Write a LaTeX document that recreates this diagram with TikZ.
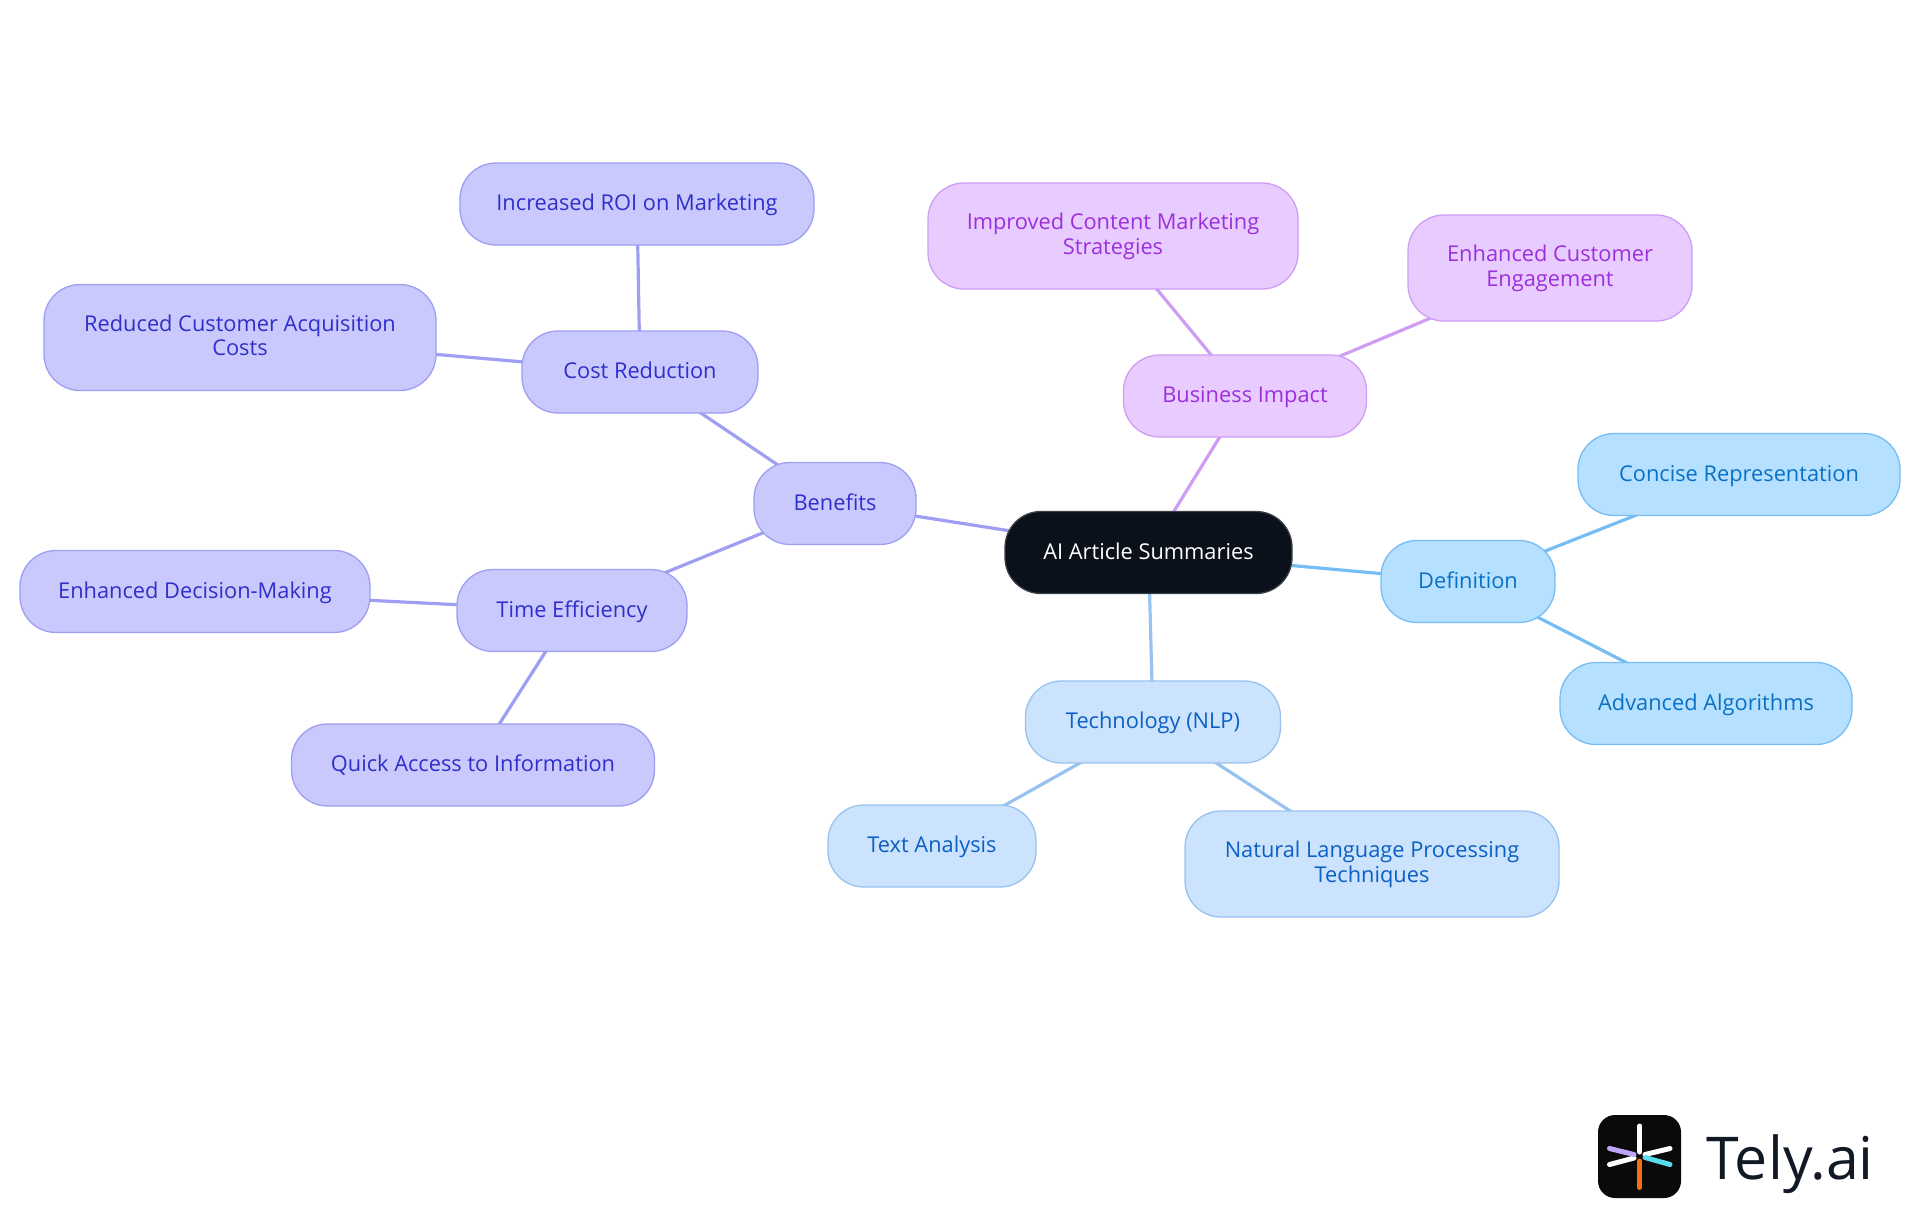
\documentclass[tikz,border=0pt]{standalone}
\usepackage{fontspec}
\setmainfont{Open Sans}
\usetikzlibrary{backgrounds}
\definecolor{mroot}{HTML}{0B111A}
\definecolor{mrootline}{HTML}{3A4048}
\definecolor{mviolet}{HTML}{C9C9FD}
\definecolor{mvioletline}{HTML}{9E9EF2}
\definecolor{mvioletText}{HTML}{2F2FC9}
\definecolor{mpurple}{HTML}{E8CBFF}
\definecolor{mpurpleline}{HTML}{CF9DF3}
\definecolor{mpurpleText}{HTML}{9B30DC}
\definecolor{msky}{HTML}{B5E0FF}
\definecolor{mskyline}{HTML}{75BDF2}
\definecolor{mskyText}{HTML}{0A70C4}
\definecolor{mblue}{HTML}{CCE3FD}
\definecolor{mblueline}{HTML}{98C3EF}
\definecolor{mblueText}{HTML}{0C5FC4}
\definecolor{mlogo}{HTML}{111A24}
\tikzset{topic/.style = {draw, rectangle, rounded corners = 18pt, line width = 0.65pt, align = center, inner sep = 0,
    minimum height = 41pt, text height = 8.5pt, text depth = 1.9pt, font = \fontsize{10.9}{12.4}\selectfont}}
\tikzset{tall/.style = {minimum height = 53pt, text height = 20.9pt, text depth = 2.5pt}}
\tikzset{violet/.style = {topic, fill = mviolet, draw = mvioletline, text = mvioletText}}
\tikzset{purple/.style = {topic, fill = mpurple, draw = mpurpleline, text = mpurpleText}}
\tikzset{sky/.style = {topic, fill = msky, draw = mskyline, text = mskyText}}
\tikzset{blue/.style = {topic, fill = mblue, draw = mblueline, text = mblueText}}
\tikzset{spoke/.style = {line width = 2.5pt, line cap = round}}
\begin{document}
\begin{tikzpicture}[x = 0.5pt, y = -0.5pt]
    \useasboundingbox (0, 0) rectangle (1920, 1215);

    \node [topic, fill = mroot, draw = mrootline, text = white, minimum width = 143.5pt] (root) at (1148.5, 552.5) {AI Article Summaries};

    \node [violet, minimum width = 81pt] (benefits) at (835, 503.5) {Benefits};
    \node [violet, minimum width = 118pt] (cost) at (640, 372) {Cost Reduction};
    \node [violet, minimum width = 177pt] (roi) at (637, 204) {Increased ROI on Marketing};
    \node [violet, tall, minimum width = 196pt] (acquisition) at (240, 337.5) {Reduced Customer Acquisition\\Costs};
    \node [violet, minimum width = 115pt] (time) at (572, 610.5) {Time Efficiency};
    \node [violet, minimum width = 175pt] (decision) at (195, 591.5) {Enhanced Decision-Making};
    \node [violet, minimum width = 181.5pt] (quick) at (473, 765) {Quick Access to Information};

    \node [purple, minimum width = 121.5pt] (business) at (1245, 396) {Business Impact};
    \node [purple, tall, minimum width = 185pt] (content) at (1113, 236) {Improved Content Marketing\\Strategies};
    \node [purple, tall, minimum width = 142pt] (engagement) at (1550, 268) {Enhanced Customer\\Engagement};

    \node [sky, minimum width = 87pt] (definition) at (1468, 581.5) {Definition};
    \node [sky, minimum width = 161pt] (concise) at (1739, 474.5) {Concise Representation};
    \node [sky, minimum width = 146pt] (algorithms) at (1706, 703.5) {Advanced Algorithms};

    \node [blue, minimum width = 127.5pt] (technology) at (1153, 722) {Technology (NLP)};
    \node [blue, minimum width = 104pt] (text) at (932, 846) {Text Analysis};
    \node [blue, tall, minimum width = 187pt] (language) at (1372, 864) {Natural Language Processing\\Techniques};

    \begin{pgfonlayer}{background}
      \foreach \from/\to/\col in {root/benefits/mvioletline, benefits/cost/mvioletline, cost/roi/mvioletline,
          cost/acquisition/mvioletline, benefits/time/mvioletline, time/decision/mvioletline, time/quick/mvioletline,
          root/business/mpurpleline, business/content/mpurpleline, business/engagement/mpurpleline,
          root/definition/mskyline, definition/concise/mskyline, definition/algorithms/mskyline,
          root/technology/mblueline, technology/text/mblueline, technology/language/mblueline}
        \draw [\col, line width = 1.6pt] (\from.center) -- (\to.center);
    \end{pgfonlayer}

    % logo
    \fill [black!96] (1598, 1115) [rounded corners = 8.5pt] rectangle (1681, 1198);
    \draw [spoke, white] (1639.7, 1152) -- (1639.7, 1126);
    \draw [spoke, white] (1645, 1154.5) -- (1670, 1148.5);
    \draw [spoke, white] (1634, 1158) -- (1609.5, 1164.5);
    \draw [spoke, color = {rgb,255:red,190;green,165;blue,245}] (1634, 1154.5) -- (1609.5, 1148.5);
    \draw [spoke, color = {rgb,255:red,90;green,220;blue,240}] (1645, 1157.5) -- (1670, 1164.5);
    \draw [spoke, color = {rgb,255:red,245;green,110;blue,20}] (1639.7, 1161) -- (1639.7, 1187.5);
    \node [anchor = base west, inner sep = 0, text = mlogo, font = \fontsize{29.5}{30}\selectfont] (brand) at (1706, 1179) {Tely.ai};
\end{tikzpicture}
\end{document}
